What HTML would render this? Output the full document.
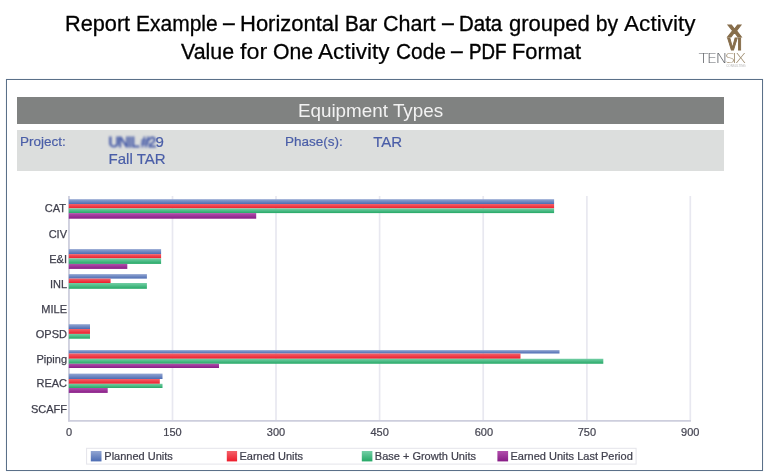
<!DOCTYPE html>
<html lang="en">
<head>
<meta charset="utf-8">
<title>Report Example – Horizontal Bar Chart</title>
<style>
html,body{margin:0;padding:0;background:#fff;}
body{width:768px;height:476px;position:relative;overflow:hidden;font-family:"Liberation Sans",Arial,sans-serif;}
.abs{position:absolute;white-space:nowrap;}
.title{left:0;top:0;width:768px;height:27px;font-size:21.2px;line-height:27px;color:#000;}
.title span{position:absolute;top:0;display:block;transform-origin:0 50%;-webkit-text-stroke:.3px #000;}
#panel{left:6px;top:79px;width:755px;height:390px;border:1px solid #5b7089;box-shadow:0 0 .6px #7d8ea3;box-sizing:content-box;}
#hdr{left:17px;top:97px;width:706.5px;height:27.2px;background:#808281;color:#fff;font-size:18.85px;line-height:28px;text-align:center;color:#f2f2f2;padding-left:.6px;box-sizing:border-box;}
#info{left:17px;top:130.4px;width:706.5px;height:40.5px;background:#dcdedd;}
.it{font-size:13.5px;line-height:17px;color:#4a5ea8;-webkit-text-stroke:.2px #4a5ea8;}
.iv{font-size:15px;line-height:17px;color:#4a5ea8;-webkit-text-stroke:.2px #4a5ea8;}
.cat{font-size:11px;line-height:14px;color:#3f3f4c;text-align:right;width:60px;left:7px;-webkit-text-stroke:.25px #3f3f4c;}
.tick{font-size:11px;line-height:14px;color:#454552;text-align:center;width:60px;-webkit-text-stroke:.22px #454552;}
.leg{font-size:11px;line-height:14px;color:#3f3f4c;top:448.6px;-webkit-text-stroke:.22px #3f3f4c;}
.sw{position:absolute;top:451px;width:10.6px;height:10.4px;}
</style>
</head>
<body><div id="all" style="position:absolute;left:0;top:0;width:768px;height:476px;filter:blur(.45px)">
<div class="abs title" id="t1" style="top:10px"><span style="left:64.53px;transform:scaleX(1.0242);">Report</span> <span style="left:135.58px;transform:scaleX(0.9906);">Example</span> <span style="left:222.95px;transform:scaleX(0.9959);top:-1px;">–</span> <span style="left:240.02px;transform:scaleX(1.0376);">Horizontal</span> <span style="left:345.12px;transform:scaleX(0.976);-webkit-text-stroke-width:.4px;">Bar</span> <span style="left:382.81px;transform:scaleX(1.0148);">Chart</span> <span style="left:441.65px;transform:scaleX(1.0041);top:-1px;">–</span> <span style="left:458.63px;transform:scaleX(0.9655);-webkit-text-stroke-width:.4px;">Data</span> <span style="left:508.8px;transform:scaleX(1.0396);">grouped</span> <span style="left:595.83px;transform:scaleX(1.0);">by</span> <span style="left:624.08px;transform:scaleX(1.0668);-webkit-text-stroke-width:.22px;">Activity</span></div>
<div class="abs title" id="t2" style="top:37.8px"><span style="left:181.2px;transform:scaleX(1.0097);">Value</span> <span style="left:239.92px;transform:scaleX(1.1031);-webkit-text-stroke-width:.15px;">for</span> <span style="left:272.95px;transform:scaleX(1.0);">One</span> <span style="left:318.45px;transform:scaleX(1.0669);-webkit-text-stroke-width:.22px;">Activity</span> <span style="left:395.72px;transform:scaleX(0.9846);">Code</span> <span style="left:451.1px;transform:scaleX(0.9959);top:-1px;">–</span> <span style="left:468.63px;transform:scaleX(0.882);-webkit-text-stroke-width:.5px;">PDF</span> <span style="left:511.65px;transform:scaleX(1.0305);">Format</span></div>

<div class="abs" id="panel"></div>
<div class="abs" id="hdr">Equipment Types</div>
<div class="abs" id="info"></div>
<div class="abs it" style="left:20px;top:133.4px">Project:</div>
<div class="abs iv" style="left:108.6px;top:133.2px"><span style="filter:blur(1.15px);letter-spacing:-1.1px;-webkit-text-stroke:.8px #4a5ea8">UNIL #2</span><span style="filter:blur(.5px)">9</span></div>
<div class="abs iv" style="left:108.6px;top:150.3px">Fall TAR</div>
<div class="abs it" style="left:285px;top:133.4px">Phase(s):</div>
<div class="abs iv" style="left:373.3px;top:132.9px">TAR</div>

<svg class="abs" style="left:0;top:0" width="768" height="476" viewBox="0 0 768 476">
<defs>
<linearGradient id="gb" x1="0" y1="0" x2="0" y2="1"><stop offset="0" stop-color="#93a6d2"/><stop offset="1" stop-color="#4c6cb3"/></linearGradient>
<linearGradient id="gr" x1="0" y1="0" x2="0" y2="1"><stop offset="0" stop-color="#f3626a"/><stop offset="1" stop-color="#ee1c2b"/></linearGradient>
<linearGradient id="gg" x1="0" y1="0" x2="0" y2="1"><stop offset="0" stop-color="#74cfa6"/><stop offset="1" stop-color="#25a866"/></linearGradient>
<linearGradient id="gp" x1="0" y1="0" x2="0" y2="1"><stop offset="0" stop-color="#b24fac"/><stop offset="1" stop-color="#871c86"/></linearGradient>
</defs>
<!-- grid -->
<g stroke="#e8e8f0" stroke-width="1.7">
<line x1="172.5" y1="196" x2="172.5" y2="420.5"/>
<line x1="276" y1="196" x2="276" y2="420.5"/>
<line x1="379.6" y1="196" x2="379.6" y2="420.5"/>
<line x1="483.2" y1="196" x2="483.2" y2="420.5"/>
<line x1="586.9" y1="196" x2="586.9" y2="420.5"/>
<line x1="690.3" y1="196" x2="690.3" y2="420.5"/>
</g>
<line x1="68.95" y1="196" x2="68.95" y2="421.5" stroke="#cdcedd" stroke-width="1.8"/>
<line x1="68.2" y1="420.8" x2="690.9" y2="420.8" stroke="#cdcedd" stroke-width="1.8"/>
<!-- CAT -->
<rect x="68.8" y="199.2" width="485.3" height="4.8" fill="url(#gb)"/>
<rect x="68.8" y="204" width="485.3" height="4.4" fill="url(#gr)"/>
<rect x="68.8" y="208.4" width="485.3" height="4.7" fill="url(#gg)"/>
<rect x="68.8" y="213.1" width="187.4" height="5.6" fill="url(#gp)"/>
<!-- E&I -->
<rect x="68.8" y="249.1" width="92.3" height="5" fill="url(#gb)"/>
<rect x="68.8" y="254.1" width="92.3" height="4.3" fill="url(#gr)"/>
<rect x="68.8" y="258.4" width="92.3" height="5.5" fill="url(#gg)"/>
<rect x="68.8" y="263.9" width="58.5" height="5" fill="url(#gp)"/>
<!-- INL -->
<rect x="68.8" y="274.1" width="78.1" height="4.5" fill="url(#gb)"/>
<rect x="68.8" y="278.6" width="41.8" height="4.4" fill="url(#gr)"/>
<rect x="68.8" y="283" width="78.1" height="5.8" fill="url(#gg)"/>
<!-- OPSD -->
<rect x="68.8" y="324.2" width="21.2" height="4.8" fill="url(#gb)"/>
<rect x="68.8" y="329" width="21.2" height="4.9" fill="url(#gr)"/>
<rect x="68.8" y="333.9" width="21.2" height="4.8" fill="url(#gg)"/>
<!-- Piping -->
<rect x="68.8" y="350.1" width="490.7" height="3.4" fill="url(#gb)"/>
<rect x="68.8" y="353.5" width="451.7" height="5.25" fill="url(#gr)"/>
<rect x="68.8" y="358.75" width="534.5" height="5" fill="url(#gg)"/>
<rect x="68.8" y="363.75" width="150.2" height="4.25" fill="url(#gp)"/>
<!-- REAC -->
<rect x="68.8" y="373.6" width="93.7" height="5.4" fill="url(#gb)"/>
<rect x="68.8" y="379" width="91" height="4.8" fill="url(#gr)"/>
<rect x="68.8" y="383.8" width="93.7" height="4.2" fill="url(#gg)"/>
<rect x="68.8" y="388" width="38.9" height="4.9" fill="url(#gp)"/>
<!-- legend -->
<rect x="86.6" y="448.3" width="549.5" height="15.8" fill="#fff" stroke="#e4e4ea" stroke-width="1"/>
<rect x="90.8" y="451" width="10.7" height="10.4" fill="url(#gb)"/>
<rect x="226.8" y="451" width="10.3" height="10.4" fill="url(#gr)"/>
<rect x="361.8" y="451" width="10.6" height="10.4" fill="url(#gg)"/>
<rect x="497.4" y="451" width="10.7" height="10.4" fill="url(#gp)"/>
<!-- logo -->
<g font-family="'Liberation Sans',Arial,sans-serif">
<text x="727.5" y="36.6" font-size="15.8" font-weight="bold" fill="#876e4c" stroke="#876e4c" stroke-width="1" textLength="14" lengthAdjust="spacingAndGlyphs">X</text>
<text x="727.6" y="49.9" font-size="16.6" font-weight="bold" fill="#876e4c" stroke="#876e4c" stroke-width="1" textLength="14" lengthAdjust="spacingAndGlyphs">VI</text>
<text transform="translate(699.1,62.7) scale(1.2,1)" x="-0.48 6.48 13.67 21.31 27.46 29.95" y="0" font-family="'DejaVu Sans','Liberation Sans',sans-serif" font-weight="200" font-size="13.7" fill="#63666b">TEN<tspan fill="#9c8a6d">SIX</tspan></text>
<text x="726.2" y="66.7" font-size="2.9" fill="#b4b4b4" textLength="19.5" lengthAdjust="spacingAndGlyphs">CONSULTING</text>
</g>
</svg>

<div class="abs cat" style="top:201px;margin-left:-1px">CAT</div>
<div class="abs cat" style="top:227px">CIV</div>
<div class="abs cat" style="top:252px">E&amp;I</div>
<div class="abs cat" style="top:277px">INL</div>
<div class="abs cat" style="top:302px">MILE</div>
<div class="abs cat" style="top:326.5px">OPSD</div>
<div class="abs cat" style="top:351.5px">Piping</div>
<div class="abs cat" style="top:376px">REAC</div>
<div class="abs cat" style="top:402px">SCAFF</div>

<div class="abs tick" style="left:39px;top:424.5px">0</div>
<div class="abs tick" style="left:142.5px;top:424.5px">150</div>
<div class="abs tick" style="left:246px;top:424.5px">300</div>
<div class="abs tick" style="left:349.6px;top:424.5px">450</div>
<div class="abs tick" style="left:453.9px;top:424.5px">600</div>
<div class="abs tick" style="left:556.9px;top:424.5px">750</div>
<div class="abs tick" style="left:660.3px;top:424.5px">900</div>

<div class="abs leg" style="left:104.3px">Planned Units</div>
<div class="abs leg" style="left:239.5px">Earned Units</div>
<div class="abs leg" style="left:374.8px">Base + Growth Units</div>
<div class="abs leg" style="left:510.5px">Earned Units Last Period</div>
</div></body>
</html>
